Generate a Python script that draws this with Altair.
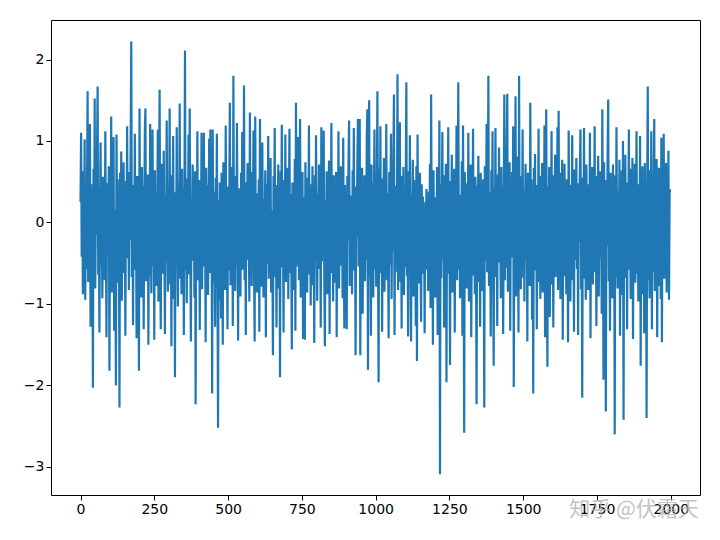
import altair as alt
import pandas as pd

# values, one every 2 steps of the x axis (x = 0, 2, 4, ... 1998)
values = [
    0.25, 1.10, -0.42, 0.63, -0.88, 0.15, -0.31, 1.02, -0.95, 0.04,
    -0.57, 0.38, 1.61, -0.73, 0.21, -0.12, 1.21, -1.28, 0.47, -0.36,
    0.12, -2.03, 0.66, -0.48, 1.52, -0.81, 0.29, -0.15, 0.88, 1.67,
    -0.64, 0.41, -1.35, 0.07, 0.98, -0.52, 0.19, -0.93, 0.56, -0.27,
    0.34, -0.71, 1.12, -0.18, -1.41, 0.48, -0.39, 0.11, 0.69, -1.82,
    0.02, -0.55, 1.30, -0.86, 0.24, -0.33, 1.05, -1.33, 0.16, -0.47,
    -2.00, 1.08, -0.29, 0.53, -0.74, 0.09, -2.27, 0.61, -0.41, 0.87,
    -0.96, 0.22, -0.13, 0.74, -0.62, 0.35, -1.39, 0.51, -0.08, 1.18,
    -0.44, 0.18, -0.83, 0.62, -0.21, 1.02, 2.22, -0.67, 0.29, -1.26,
    0.46, -0.34, 1.09, -0.58, 0.13, -1.42, 0.57, -0.25, 0.39, -1.82,
    1.40, -0.61, 0.23, -0.92, 0.68, -0.19, 0.44, -1.31, 0.06, 1.13,
    1.40, -0.72, 0.17, -0.38, 0.59, -1.50, 0.31, -0.66, 1.21, -0.11,
    -0.87, 0.42, 1.14, -0.53, 0.08, -1.44, 0.64, -0.29, 0.36, -0.78,
    0.19, 1.14, -0.97, 0.27, 1.63, -0.45, -1.31, 0.72, -0.16, 0.51,
    -0.63, 0.88, -0.24, -1.37, 0.33, -0.49, 1.25, -0.07, -0.85, 0.45,
    -0.31, 1.40, -0.76, 0.12, -1.52, 0.58, -0.18, 1.06, -0.94, 0.26,
    -1.90, 0.37, -0.52, 1.17, -0.14, -1.03, 0.48, -0.37, 1.46, -0.69,
    0.15, -0.88, 0.66, -0.27, 0.42, -1.38, 0.08, 2.11, -0.58, 0.31,
    -0.99, 0.54, -0.21, 1.08, -0.64, 1.40, -0.36, -1.46, 0.28, -0.05,
    0.71, -0.47, 0.18, -0.92, 0.63, -2.23, 0.39, -0.28, 1.12, -0.71,
    -0.16, 0.52, -1.32, 0.24, -0.43, 1.10, -0.82, 0.35, -0.23, 1.10,
    -0.54, 0.13, -1.47, 0.67, -0.31, 0.46, -0.89, 0.02, 1.03, -0.62,
    1.14, -0.37, 0.21, -2.10, 1.14, -0.74, 0.38, -0.19, -1.28, 0.55,
    -0.41, 1.09, -0.66, -2.52, 0.27, -0.95, 0.49, -0.13, -1.18, 0.61,
    -0.22, -1.50, 0.74, -0.48, 0.16, -0.83, 1.19, -0.35, 0.07, -1.31,
    0.44, -0.59, 0.22, 1.47, -0.77, 0.31, -0.26, 0.68, -1.27, 1.80,
    -0.38, 0.57, -0.84, 0.14, -0.52, 1.22, -0.17, -1.45, 0.42, -0.63,
    0.26, -0.91, 0.61, -0.32, 1.11, -0.58, -0.09, 1.68, -0.71, 0.18,
    -1.38, 0.49, -0.27, 0.73, -0.46, 0.05, -0.97, 1.35, -0.33, 0.62,
    -0.78, 0.24, -0.14, 1.13, -0.57, -1.46, 1.30, -0.42, 0.36, -0.86,
    0.11, -0.63, 0.53, -1.34, 1.27, -0.24, 0.41, -0.79, 0.98, -0.35,
    -0.92, 0.29, -0.18, 0.64, -1.41, 0.47, -0.51, 0.08, 1.06, -0.69,
    0.34, -0.44, 0.79, -0.86, 0.15, -0.28, -1.63, 0.57, -0.12, 1.16,
    -0.67, 0.22, -1.29, 0.46, -0.33, 0.71, -0.81, 0.19, -1.90, 0.63,
    -0.26, 1.20, -0.55, 0.06, -1.35, 0.52, -0.39, 1.08, -0.73, 0.28,
    -0.48, 0.67, -0.94, 0.17, 1.15, -0.62, 0.35, -0.21, -1.56, 0.49,
    -0.83, 0.13, -0.36, 0.78, -1.33, 1.47, -0.54, 0.25, -0.15, 1.05,
    -0.71, 0.39, 1.27, -0.92, 0.04, -0.45, 0.62, -1.43, 0.31, -0.27,
    -1.44, 0.74, -0.38, 0.18, -0.86, 0.55, -0.12, 1.19, -0.64, 0.21,
    -1.02, 0.47, -0.29, 0.69, -0.77, 0.08, -1.48, 0.58, -0.43, 1.07,
    -0.19, -0.96, 0.36, -0.57, 0.71, -0.31, 0.14, -1.29, 1.17, -0.48,
    0.52, -0.23, 1.13, -0.69, -1.52, 0.27, -0.41, 0.63, -0.88, 0.09,
    -0.34, 0.76, -1.37, 0.43, -0.17, 1.22, -0.62, 0.21, -0.97, 0.58,
    -0.28, 0.16, -0.74, 0.62, -1.41, 0.35, -0.46, 1.12, -0.81, 0.24,
    -0.07, 0.69, -0.53, 0.28, -0.93, 1.04, -0.36, -1.30, 0.46, -0.65,
    0.19, -1.31, 0.57, -0.22, 0.73, 1.25, -0.78, 0.33, -0.49, 0.12,
    -0.88, 0.64, -0.31, 1.16, -0.59, 0.07, -1.63, 0.44, -0.18, 0.76,
    1.27, -0.54, 0.38, 1.27, -1.63, 0.22, -0.41, 0.67, -1.12, 0.15,
    -0.29, 0.58, -0.72, 0.13, -0.46, 1.06, 1.39, -1.81, 0.31, 1.50,
    -0.67, 0.24, -1.39, 0.71, -0.38, 0.49, -0.92, 0.16, 1.14, -0.57,
    0.05, -0.79, 0.42, 1.61, -0.34, -1.96, 0.66, -0.21, 1.18, -0.62,
    0.27, -1.34, 0.54, -0.16, 0.79, -0.85, 0.11, -0.43, 1.21, -0.71,
    0.36, -0.27, -1.42, 0.62, -0.52, 0.18, 1.09, -0.94, 0.29, -0.35,
    0.74, 1.57, -1.38, 0.23, -0.61, 0.45, -0.19, 1.82, -0.83, 0.12,
    -0.47, 1.23, -0.73, 0.31, -1.30, 0.57, -0.24, 0.68, -0.89, 0.19,
    -0.55, 0.41, 1.72, -0.66, 0.08, -1.40, 0.63, -0.32, 1.07, -0.44,
    -1.46, 0.34, -0.18, 0.77, -0.91, 0.52, -0.37, 0.14, -1.27, 0.69,
    -1.70, 1.08, -0.42, 0.26, -0.75, 0.61, -0.23, -1.22, 0.47, -0.14,
    0.32, -0.63, 0.19, -1.36, 0.25, -0.58, 0.41, -0.51, 0.07, -0.84,
    0.38, -0.33, 0.72, -1.05, 1.57, -0.26, 0.43, -1.50, 0.64, -0.48,
    0.15, -0.92, 0.31, -0.57, 0.68, -1.38, 0.22, -0.39, 1.25, -3.09,
    0.47, -0.68, 0.13, 1.11, -0.45, 0.26, -1.29, 0.58, -0.31, 0.72,
    -1.96, 0.39, -0.22, 1.17, -0.63, 0.17, -1.75, 0.51, -0.14, 0.83,
    -0.86, 0.29, -0.47, 0.66, -1.35, 0.42, -0.18, 1.19, -0.71, 0.05,
    1.72, -0.58, 0.34, -0.93, 0.21, -0.36, 0.75, -1.39, 1.19, -0.44,
    -2.58, 0.62, -0.27, 0.48, -0.81, 0.13, -0.52, 1.10, -0.97, 0.32,
    -0.19, 0.71, -1.41, 0.24, -0.41, 1.15, -0.65, 0.09, -0.88, 0.56,
    -0.33, -2.23, 0.45, -0.12, 0.82, -0.73, 0.27, -1.28, 0.61, -0.39,
    0.18, -0.84, 0.53, -0.26, -2.27, 0.69, -0.47, 0.11, 1.21, -0.61,
    0.25, 1.80, -0.78, 0.37, -0.15, -1.40, 0.64, -0.42, 1.12, -0.55,
    -1.76, 0.43, -0.24, 1.16, -0.67, 0.16, -1.27, 0.59, -0.32, 0.92,
    -0.49, 0.21, -0.93, 0.68, -0.28, 0.45, -1.37, 0.08, 1.57, -0.71,
    0.34, -0.56, 0.87, 1.58, -0.85, 0.12, -0.37, 0.74, -1.33, 0.29,
    -0.43, 0.62, -0.18, 1.18, -2.02, 0.38, -0.64, 1.55, -0.91, 0.17,
    -0.27, 0.81, -1.35, 1.80, -0.53, 0.24, -0.82, 0.57, -0.13, 1.14,
    -0.68, 0.36, -0.97, 0.14, 0.72, -0.44, 0.27, -1.46, 0.61, -0.36,
    0.49, -0.78, 1.47, -0.29, 0.53, -1.19, 0.18, -2.10, 0.67, -0.21,
    0.84, -0.59, 0.31, -1.31, 0.46, -0.17, 1.15, -0.73, 0.08, -0.94,
    0.57, -0.34, 0.73, -0.86, 0.22, -0.51, 1.19, -1.41, 0.39, 1.39,
    -0.62, -1.77, 0.44, -0.23, 0.68, -1.16, 0.15, -0.38, 1.12, -0.76,
    0.29, -1.29, 0.58, -0.31, 0.83, -0.67, 0.11, -0.45, 1.17, -0.83,
    1.37, -0.52, 0.26, -0.94, 0.61, -0.19, 0.77, -1.44, 0.34, -0.41,
    0.72, -0.66, 0.17, -0.88, 0.53, -0.27, -1.47, 1.13, -0.35, 0.46,
    -0.97, 0.38, -0.14, 1.07, -0.71, 0.23, -1.34, 0.65, -0.46, 0.12,
    0.79, -0.57, 0.31, -1.38, 0.48, -0.24, 0.66, 1.14, -0.82, 0.19,
    -2.15, 0.55, -0.38, 1.16, -0.69, 0.13, -0.95, 0.71, -0.22, 0.47,
    -0.83, 0.26, -0.49, 1.10, -1.42, 0.41, -0.12, 0.68, -0.76, 0.34,
    -0.29, 1.18, -0.61, 0.18, -1.27, 0.57, -0.37, 0.82, -0.91, 0.09,
    0.63, -0.44, 0.27, -1.12, 1.39, -0.16, -1.93, 0.74, -0.53, 0.35,
    -2.32, 0.52, -0.28, 0.86, 1.51, -0.72, 0.19, -1.33, 0.61, -0.39,
    0.44, -0.93, 0.71, -0.24, 0.58, -2.60, 0.33, -0.67, 1.17, -0.18,
    -0.81, 0.39, -0.52, 0.77, -1.39, 0.28, -0.35, 0.64, -0.89, 1.00,
    -2.42, 0.57, -0.21, 0.83, -0.68, 0.14, -1.31, 0.49, -0.33, 1.14,
    -0.58, 0.23, -0.94, 0.66, -0.42, 0.79, -1.43, 0.35, -0.26, 0.72,
    -0.74, 0.18, 1.12, -0.63, 0.47, -0.97, 0.31, -0.45, 1.06, -1.76,
    0.52, -0.36, 0.69, -0.88, 0.26, -1.36, 0.73, -0.19, 0.41, -2.40,
    0.38, 1.67, -0.71, 0.22, -0.93, 0.64, -0.47, 1.12, -1.31, 0.15,
    -0.61, 0.55, 1.27, -0.84, 0.33, -0.29, 0.78, -1.41, 0.42, -0.53,
    0.67, -0.78, 0.19, -0.94, 1.04, -1.47, 0.61, -0.32, 1.09, -0.69,
    0.27, -0.57, 0.73, -0.86, 0.44, -0.62, 0.88, -0.95, 0.36, 0.41,
]
x_step = 2
x_ticks = [0, 250, 500, 750, 1000, 1250, 1500, 1750, 2000]
y_ticks = [-3, -2, -1, 0, 1, 2]
x_domain = [-100, 2099]
y_domain = [-3.345, 2.485]
watermark = "知乎 @伏霜天"

df = pd.DataFrame({"x": [i * x_step for i in range(len(values))], "y": values})

line = alt.Chart(df).mark_line(color="#1f77b4", strokeWidth=2.2, clip=True).encode(
    x=alt.X("x:Q", scale=alt.Scale(domain=x_domain, nice=False, zero=False),
            axis=alt.Axis(values=x_ticks, title=None, format="d")),
    y=alt.Y("y:Q", scale=alt.Scale(domain=y_domain, nice=False, zero=False),
            axis=alt.Axis(values=y_ticks, title=None, format="d")),
)

wm = alt.Chart(pd.DataFrame({"t": [watermark]})).mark_text(
    font="Noto Sans CJK SC", fontSize=21, color="#b0b0b0", opacity=0.75, align="center", baseline="middle"
).encode(text="t:N", x=alt.value(583), y=alt.value(490))

chart = alt.layer(line, wm).properties(
    width=649, height=475,
    autosize=alt.AutoSizeParams(type="none"),
    padding={"left": 43, "top": 12, "right": 12, "bottom": 40},
).configure_view(
    stroke="black", strokeWidth=1
).configure_axis(
    grid=False, domain=False, ticks=True, tickColor="black", tickSize=5, tickWidth=1,
    labelColor="black", labelFont="DejaVu Sans", labelFontSize=14, labelPadding=2,
)

chart.save("out.html", embed_options={"renderer": "svg", "actions": False})
